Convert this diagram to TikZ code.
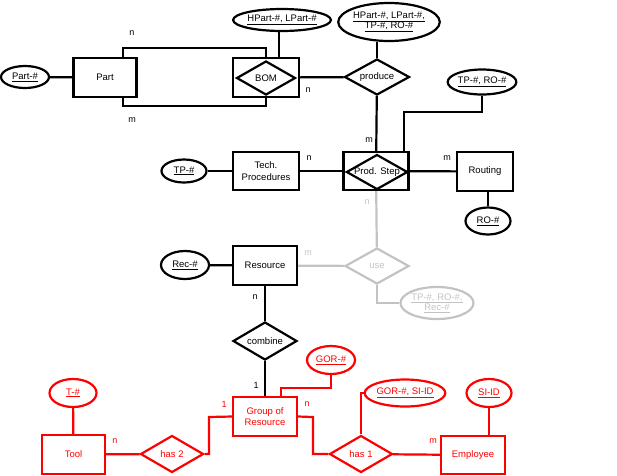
\documentclass[tikz,border=0pt]{standalone}
\usepackage{fontspec}
\setmainfont{Liberation Sans}
\usetikzlibrary{shapes.geometric}
\definecolor{lg}{RGB}{195,195,195}
\begin{document}
\begin{tikzpicture}[x=1pt,y=-1pt,line width=2.2pt,
 ent/.style={draw,rectangle,inner sep=0pt,align=center,font=\fontsize{9.5}{11.5}\selectfont},
 rel/.style={draw,diamond,aspect=1.75,inner sep=0pt,font=\fontsize{9.5}{11}\selectfont},
 att/.style={draw,ellipse,inner sep=0pt,align=center,font=\fontsize{9.5}{10.5}\selectfont},
 lab/.style={font=\fontsize{9}{10}\selectfont}]
\path[use as bounding box] (0,0) rectangle (617,475);
% entities
\node[ent,minimum width=63,minimum height=39] (part) at (105,77.5) {Part};
\node[ent,minimum width=66,minimum height=39] (bomr) at (266,77.5) {};
\node[rel,minimum width=59,minimum height=34] (bom) at (266,78) {BOM};
\node[rel,minimum width=65,minimum height=36] (prod) at (377,77) {produce};
\node[ent,minimum width=65,minimum height=38] (psr) at (376,171) {};
\node[rel,minimum width=59,minimum height=33] (ps) at (377,172) {Prod. Step};
\node[ent,minimum width=66,minimum height=38] (tech) at (266,171) {Tech.\\Procedures};
\node[ent,minimum width=56,minimum height=39] (rout) at (485,171.5) {Routing};
\node[ent,minimum width=64,minimum height=39] (res) at (265,265.5) {Resource};
\node[rel,minimum width=64,minimum height=38] (comb) at (265,341) {combine};
% attributes
\node[att,minimum width=48,minimum height=22] (partid) at (25,77) {\underline{Part-\#}};
\node[att,minimum width=84,minimum height=22] (bomid) at (282,20) {\underline{HPart-\#, LPart-\#}};
\node[att,minimum width=88,minimum height=38] (prodid) at (389,22) {\underline{HPart-\#, LPart-\#,}\\\underline{TP-\#, RO-\#}};
\node[att,minimum width=65,minimum height=25] (psid) at (482,82) {\underline{TP-\#, RO-\#}};
\node[att,minimum width=45,minimum height=27] (roid) at (488,221) {\underline{RO-\#}};
\node[att,minimum width=45,minimum height=23] (tpid) at (184,171) {\underline{TP-\#}};
\node[att,minimum width=48,minimum height=28] (recid) at (185,265) {\underline{Rec-\#}};
% black connectors
\draw (partid) -- (part);
\draw (part.north east)++(-15,0) coordinate (a1) -- ++(0,-9) -| (bomr.north);
\draw (part.south east)++(-15,0) coordinate (a2) -- ++(0,8) -| (bomr.south);
\draw (bomid.south -| 279,0) ++(0,0) -- (279,58);
\draw (bomr) -- (prod);
\draw (prod.north) -- (prodid.south -| prod.north);
\draw (prod) -- (psr);
\draw (404,152) -- (404,112) -| (psid.south);
\draw (tpid) -- (tech);
\draw (tech) -- (psr);
\draw (psr) -- (rout);
\draw (rout.south -| roid.north) -- (roid);
\draw (recid) -- (res);
\draw (res) -- (comb);
\node[lab] at (132,33) {n};
\node[lab] at (132,120) {m};
\node[lab] at (308,90) {n};
\node[lab] at (369,140) {m};
\node[lab] at (309,158) {n};
\node[lab] at (447,158) {m};
\node[lab] at (255,297) {n};
\node[lab] at (256,385) {1};
% gray
\begin{scope}[lg]
\node[rel,minimum width=64,minimum height=36] (use) at (377,266) {use};
\node[att,minimum width=73,minimum height=32] (useid) at (437,303) {\underline{TP-\#, RO-\#,}\\\underline{Rec-\#}};
\draw (psr) -- (use);
\draw (res) -- (use);
\draw (use.south) |- (useid.west);
\node[lab] at (367,202) {n};
\node[lab] at (308,253) {m};
\end{scope}
% red
\begin{scope}[red]
\node[ent,minimum width=64,minimum height=39] (gor) at (265,416.5) {Group of\\Resource};
\node[rel,minimum width=63,minimum height=37] (has2) at (172,454) {has 2};
\node[rel,minimum width=63,minimum height=37] (has1) at (361,454) {has 1};
\node[ent,minimum width=63,minimum height=39] (tool) at (73.5,454.5) {Tool};
\node[ent,minimum width=64,minimum height=38] (emp) at (473,455) {Employee};
\node[att,minimum width=48,minimum height=28] (gorid) at (331,360) {\underline{GOR-\#}};
\node[att,minimum width=47,minimum height=28] (tid) at (73,393) {\underline{T-\#}};
\node[att,minimum width=72,minimum height=27] (h1id) at (405,393) {\underline{GOR-\#, SI-ID}};
\node[att,minimum width=45,minimum height=28] (siid) at (489,393) {\underline{SI-ID}};
\draw (281,397) -- (281,388) -| (gorid.south);
\draw (gor.west) -- (209,417) |- (has2.east);
\draw (gor.east) -- (313,417) |- (has1.west);
\draw (has2) -- (tool);
\draw (has1) -- (emp);
\draw (tid) -- (tool);
\draw (has1.north) |- (h1id.west);
\draw (siid) -- (siid |- emp.north);
\node[lab] at (224,404) {1};
\node[lab] at (307,404) {n};
\node[lab] at (115,441) {n};
\node[lab] at (433,441) {m};
\end{scope}
\draw[black] (comb) -- (gor);
\end{tikzpicture}
\end{document}
